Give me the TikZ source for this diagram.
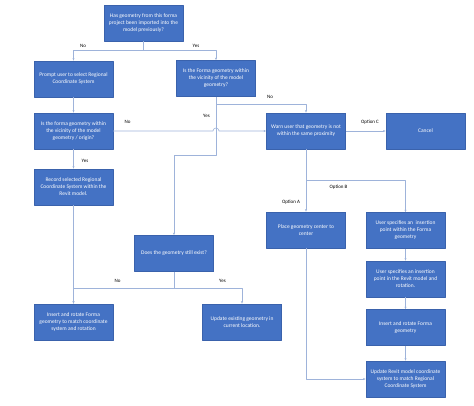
\documentclass[tikz,border=0pt]{standalone}
\usepackage{fontspec}
\setmainfont{Carlito}
\usetikzlibrary{arrows.meta}
\definecolor{xanh}{HTML}{4472C4}
\definecolor{xanhvien}{HTML}{3A62AC}
\definecolor{xanhnhat}{HTML}{9EB3DA}
\begin{document}
\begin{tikzpicture}[x=1pt,y=-1pt,line join=round,
	khoi/.style={draw=xanhvien,line width=0.4pt,fill=xanh,text=white,minimum width=79pt,minimum height=36pt,inner sep=1pt,align=center,font=\fontsize{5.5}{7}\selectfont},
	noi/.style={draw=xanhnhat,line width=0.6pt},
	mui/.style={noi,-{Latex[length=2.4pt,width=2.2pt]}},
	nhan/.style={font=\fontsize{5}{6}\selectfont,text=black}]
	%==Khung hình
	\useasboundingbox (0,0) rectangle (474,405);
	%==Các khối
	\node[khoi] (Q1) at (143.5,23) {Has geometry from this forma\\project been imported into the\\model previously?};
	\node[khoi] (P) at (73.5,79) {Prompt user to select Regional\\Coordinate System};
	\node[khoi] (Q2) at (216,78.5) {Is the Forma geometry within\\the vicinity of the model\\geometry?};
	\node[khoi] (Q3) at (73.5,131) {Is the forma geometry within\\the vicinity of the model\\geometry / origin?};
	\node[khoi] (W) at (306,131) {Warn user that geometry is not\\within the same proximity};
	\node[khoi] (C) at (425.5,131) {Cancel};
	\node[khoi] (R) at (73.5,187) {Record selected Regional\\Coordinate System within the\\Revit model.};
	\node[khoi] (E) at (174,253.5) {Does the geometry still exist?};
	\node[khoi] (IA) at (73.5,322) {Insert and rotate Forma\\geometry to match coordinate\\system and rotation};
	\node[khoi] (U) at (242,322) {Update existing geometry in\\current location.};
	\node[khoi] (PL) at (306,230) {Place geometry center to\\center};
	\node[khoi] (UF) at (405.5,230.5) {User specifies an\ \ insertion\\point within the Forma\\geometry};
	\node[khoi] (UR) at (405.5,279) {User specifies an insertion\\point in the Revit model and\\rotation.};
	\node[khoi] (IB) at (405.5,327.5) {Insert and rotate Forma\\geometry};
	\node[khoi] (UC) at (405.5,379) {Update Revit model coordinate\\system to match Regional\\Coordinate System};
	%==Đường nối
	\draw[noi] (Q1.south)--++(0,9.5)coordinate(T);
	\draw[mui] (T)-|(P.north);
	\draw[mui] (T)-|(Q2.north);
	\draw[mui] (P)--(Q3);
	\draw[mui] (Q3)--(R);
	\draw[mui] (R)--(IA);
	\draw[mui] (Q3.east)--([xshift=-3pt]Q2.south|-Q3.east) arc[start angle=180,end angle=0,radius=3pt]--(W.west);
	\draw[noi] (Q2.south)--++(0,8)coordinate(K);
	\draw[mui] (K)-|(W.north);
	\draw[mui] (K)--++(0,51)coordinate(K1)-|(E.north);
	\draw[mui] (W)--(C);
	\draw[noi] (W.south)--++(0,31.5)coordinate(M);
	\draw[mui] (M)-|(UF.north);
	\draw[mui] (M)--(PL.north);
	\draw[mui] (PL.south)|-(UC.west);
	\draw[mui] (UF)--(UR);
	\draw[mui] (UR)--(IB);
	\draw[mui] (IB)--(UC);
	\draw[noi] (E.south)--++(0,16.5)coordinate(N);
	\draw[mui] (N)-|(IA.north);
	\draw[mui] (N)-|(U.north);
	%==Nhãn
	\node[nhan] at (83,45.5) {No};
	\node[nhan] at (196,45.5) {Yes};
	\node[nhan] at (127.5,122) {No};
	\node[nhan] at (85,161) {Yes};
	\node[nhan] at (270,97) {No};
	\node[nhan] at (206.5,116) {Yes};
	\node[nhan] at (370,122) {Option C};
	\node[nhan] at (338.5,187) {Option B};
	\node[nhan] at (291,202) {Option A};
	\node[nhan] at (117.5,281) {No};
	\node[nhan] at (222.5,281) {Yes};
\end{tikzpicture}
\end{document}
